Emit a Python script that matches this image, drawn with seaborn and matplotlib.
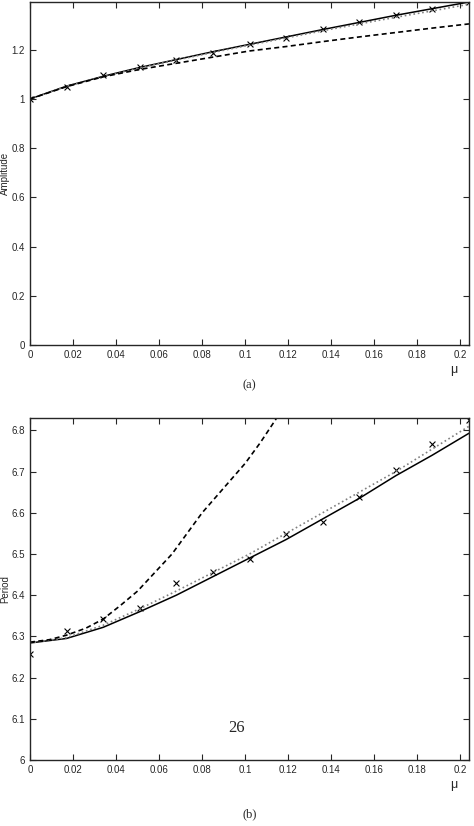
import numpy as np
import matplotlib
matplotlib.use("Agg")
import matplotlib.pyplot as plt
import seaborn as sns

sns.set_style("ticks")
plt.rcParams['font.family'] = ['Liberation Sans', 'DejaVu Sans']

# amplitude panel
mu_marks = [0, 0.017, 0.034, 0.051, 0.068, 0.085, 0.102, 0.119, 0.136, 0.153, 0.17, 0.187, 0.204]
amp_marks = [1.0, 1.049, 1.098, 1.131, 1.159, 1.186, 1.222, 1.247, 1.283, 1.311, 1.34, 1.367, 1.395]
amp_solid = [1.0, 1.052, 1.092, 1.128, 1.160, 1.192, 1.222, 1.252, 1.282, 1.311, 1.340, 1.367, 1.394]
amp_dotted = [1.0, 1.052, 1.091, 1.127, 1.158, 1.189, 1.219, 1.248, 1.277, 1.305, 1.332, 1.358, 1.385]
amp_dashed = [1.0, 1.05, 1.09, 1.12, 1.145, 1.17, 1.195, 1.213, 1.233, 1.252, 1.27, 1.288, 1.305]

# period panel
per_marks = [6.257, 6.313, 6.342, 6.370, 6.429, 6.457, 6.487, 6.548, 6.578, 6.639, 6.703, 6.766, 6.824]
per_solid = [6.284, 6.295, 6.322, 6.36, 6.40, 6.445, 6.49, 6.535, 6.585, 6.635, 6.69, 6.74, 6.793]
per_dotted = [6.284, 6.297, 6.327, 6.367, 6.41, 6.455, 6.50, 6.55, 6.60, 6.65, 6.70, 6.755, 6.81]
mu_dashed = [0, 0.009, 0.017, 0.026, 0.034, 0.042, 0.05, 0.058, 0.066, 0.073, 0.08, 0.09, 0.1, 0.107, 0.114, 0.125]
per_dashed = [6.286, 6.292, 6.303, 6.32, 6.342, 6.375, 6.41, 6.455, 6.50, 6.55, 6.60, 6.66, 6.72, 6.77, 6.825, 6.92]

fig = plt.figure(figsize=(4.74, 8.26), dpi=100)
ax1 = fig.add_axes([30/474, 481/826, 439/474, 343/826])
ax2 = fig.add_axes([30/474, 66/826, 439/474, 342/826])

def style(ax):
    ax.tick_params(direction='in', top=True, right=True, labelsize=7, length=4, width=0.8)
    for s in ax.spines.values():
        s.set_linewidth(1.0)
        s.set_visible(True)
    ax.set_xlim(0, 0.204)
    ax.set_xticks(np.arange(0, 0.201, 0.02))
    ax.set_xticklabels(['0', '0.02', '0.04', '0.06', '0.08', '0.1', '0.12', '0.14', '0.16', '0.18', '0.2'])
    ax.text(0.965, -0.055, 'μ', transform=ax.transAxes, fontsize=9, ha='center', va='top')

sns.lineplot(x=mu_marks, y=amp_solid, ax=ax1, color='black', lw=1.1)
sns.lineplot(x=mu_marks, y=amp_dotted, ax=ax1, color='gray', lw=1.2, linestyle=':')
sns.lineplot(x=mu_marks, y=amp_dashed, ax=ax1, color='black', lw=1.2, linestyle=(0, (3, 2)))
sns.scatterplot(x=mu_marks, y=amp_marks, ax=ax1, marker='x', color='black', s=18, linewidth=0.8)
ax1.set_ylim(0, 1.394)
ax1.set_yticks([0, 0.2, 0.4, 0.6, 0.8, 1, 1.2])
ax1.set_yticklabels(['0', '0.2', '0.4', '0.6', '0.8', '1', '1.2'])
ax1.set_ylabel('Amplitude', fontsize=7, labelpad=1)
style(ax1)
ax1.text(0.5, -0.1, '(a)', transform=ax1.transAxes, fontsize=9, ha='center', va='top', family='Liberation Serif')

sns.lineplot(x=mu_marks, y=per_solid, ax=ax2, color='black', lw=1.1)
sns.lineplot(x=mu_marks, y=per_dotted, ax=ax2, color='gray', lw=1.2, linestyle=':')
sns.lineplot(x=mu_dashed, y=per_dashed, ax=ax2, color='black', lw=1.2, linestyle=(0, (3, 2)))
sns.scatterplot(x=mu_marks, y=per_marks, ax=ax2, marker='x', color='black', s=18, linewidth=0.8)
ax2.set_ylim(6, 6.83)
ax2.set_yticks([6, 6.1, 6.2, 6.3, 6.4, 6.5, 6.6, 6.7, 6.8])
ax2.set_yticklabels(['6', '6.1', '6.2', '6.3', '6.4', '6.5', '6.6', '6.7', '6.8'])
ax2.set_ylabel('Period', fontsize=7, labelpad=1)
style(ax2)
ax2.text(0.47, 0.095, '26', transform=ax2.transAxes, fontsize=12, ha='center', va='center', family='Liberation Serif')
ax2.text(0.5, -0.14, '(b)', transform=ax2.transAxes, fontsize=9, ha='center', va='top', family='Liberation Serif')

fig.savefig('out.png', dpi=100)
